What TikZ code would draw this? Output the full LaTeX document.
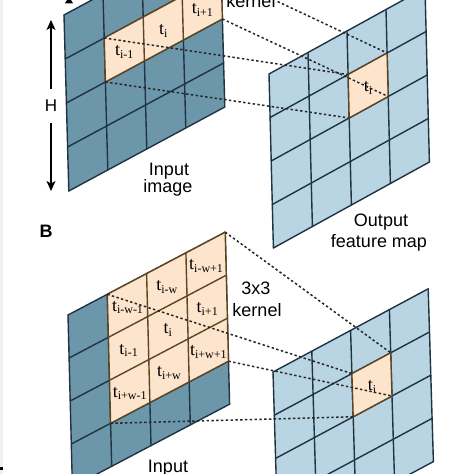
\documentclass[tikz,border=0pt]{standalone}
\usepackage{fontspec}
\setmainfont{Liberation Sans}
\newfontfamily\tfont{Liberation Serif}
\usetikzlibrary{calc,arrows.meta}
\definecolor{inblue}{HTML}{6C97AA}
\definecolor{outblue}{HTML}{B9D4E2}
\definecolor{kbeige}{HTML}{FCE4CD}
\definecolor{gline}{HTML}{1F3342}
\definecolor{kline}{HTML}{5C4622}
\tikzset{
  gridline/.style={draw=gline, line width=1.4pt, line cap=round, line join=round},
  kborder/.style={draw=kline, line width=1.4pt, line cap=round, line join=round},
  dotline/.style={draw=black!85, line width=1.5pt, dash pattern=on 2.4pt off 2.4pt},
  lbl/.style={font=\fontsize{18}{21}\selectfont, inner sep=1pt},
  tlbl/.style={font=\tfont\fontsize{18}{20}\selectfont, inner sep=0pt, yshift=-2pt},
  harrow/.style={line width=1.2pt, -{Stealth[length=10pt,width=9pt,inset=2.5pt]}},
}
\newcommand\tsub[1]{t\raisebox{-0.35ex}{\fontsize{12}{12}\selectfont #1}}
\newcommand\drawgrid[4]{%
  \fill[#2] (#1O) -- ($(#1O)+#3*(#1U)$) -- ($(#1O)+#3*(#1U)+#4*(#1V)$) -- ($(#1O)+#4*(#1V)$) -- cycle;
  \foreach \k in {0,...,#3} \draw[gridline] ($(#1O)+\k*(#1U)$) -- ($(#1O)+\k*(#1U)+#4*(#1V)$);
  \foreach \k in {0,...,#4} \draw[gridline] ($(#1O)+\k*(#1V)$) -- ($(#1O)+#3*(#1U)+\k*(#1V)$);
}
\newcommand\drawkernel[5]{%
  \fill[kbeige] ($(#1O)+#2*(#1U)+#3*(#1V)$) -- ($(#1O)+#4*(#1U)+#3*(#1V)$) -- ($(#1O)+#4*(#1U)+#5*(#1V)$) -- ($(#1O)+#2*(#1U)+#5*(#1V)$) -- cycle;
  \foreach \k in {#2,...,#4} \draw[kborder] ($(#1O)+\k*(#1U)+#3*(#1V)$) -- ($(#1O)+\k*(#1U)+#5*(#1V)$);
  \foreach \k in {#3,...,#5} \draw[kborder] ($(#1O)+#2*(#1U)+\k*(#1V)$) -- ($(#1O)+#4*(#1U)+\k*(#1V)$);
  \coordinate (#1kTL) at ($(#1O)+#2*(#1U)+#3*(#1V)$);
  \coordinate (#1kTR) at ($(#1O)+#4*(#1U)+#3*(#1V)$);
  \coordinate (#1kBR) at ($(#1O)+#4*(#1U)+#5*(#1V)$);
  \coordinate (#1kBL) at ($(#1O)+#2*(#1U)+#5*(#1V)$);
}
\begin{document}
\begin{tikzpicture}[x=1pt,y=-1pt]
\useasboundingbox (0,0) rectangle (474,474);
\clip (0,0) rectangle (474,474);
\fill[white] (0,0) rectangle (474,474);
\fill[gray!12] (0,0) rectangle (3,474);
% geometry
\coordinate (AO) at (64,15);  \coordinate (AU) at (39,-21);    \coordinate (AV) at (1.2,44);
\coordinate (CO) at (269,74); \coordinate (CU) at (39,-21.5);  \coordinate (CV) at (1.1,43.5);
\coordinate (BO) at (68,315); \coordinate (BU) at (39.3,-20.7);\coordinate (BV) at (1.1,43);
\coordinate (DO) at (273,372);\coordinate (DU) at (38.8,-20.8);\coordinate (DV) at (1.3,43.2);
% grids
\drawgrid{C}{outblue}{4}{4}
\drawgrid{A}{inblue}{4}{4}
\drawgrid{D}{outblue}{4}{4}
\drawgrid{B}{inblue}{4}{4}
% kernels and output cells
\drawkernel{A}{1}{1}{4}{2}
\drawkernel{C}{2}{1}{3}{2}
\drawkernel{B}{1}{0}{4}{3}
\drawkernel{D}{2}{1}{3}{2}
% cell labels A
\node[tlbl] (Atm) at ($(AO)+1.5*(AU)+1.5*(AV)$) {\tsub{i-1}};
\node[tlbl] (Ati) at ($(AO)+2.5*(AU)+1.5*(AV)$) {\tsub{i}};
\node[tlbl] (Atp) at ($(AO)+3.5*(AU)+1.5*(AV)$) {\tsub{i+1}};
\node[tlbl] (Cti) at ($(CO)+2.5*(CU)+1.5*(CV)$) {\tsub{i}};
% cell labels B
\node[tlbl] (B00) at ($(BO)+1.5*(BU)+0.5*(BV)$) {\tsub{i-w-1}};
\node[tlbl] (B01) at ($(BO)+2.5*(BU)+0.5*(BV)$) {\tsub{i-w}};
\node[tlbl] (B02) at ($(BO)+3.5*(BU)+0.5*(BV)$) {\tsub{i-w+1}};
\node[tlbl] (B10) at ($(BO)+1.5*(BU)+1.5*(BV)$) {\tsub{i-1}};
\node[tlbl] (B11) at ($(BO)+2.5*(BU)+1.5*(BV)$) {\tsub{i}};
\node[tlbl] (B12) at ($(BO)+3.5*(BU)+1.5*(BV)$) {\tsub{i+1}};
\node[tlbl] (B20) at ($(BO)+1.5*(BU)+2.5*(BV)$) {\tsub{i+w-1}};
\node[tlbl] (B21) at ($(BO)+2.5*(BU)+2.5*(BV)$) {\tsub{i+w}};
\node[tlbl] (B22) at ($(BO)+3.5*(BU)+2.5*(BV)$) {\tsub{i+w+1}};
\node[tlbl] (Dti) at ($(DO)+2.5*(DU)+1.5*(DV)$) {\tsub{i}};
% dotted projection lines
\draw[dotline] (AkTL) -- (CkTL);
\draw[dotline] (AkTR) -- (CkTR);
\draw[dotline] (AkBR) -- (CkBR);
\draw[dotline] (AkBL) -- (CkBL);
\draw[dotline] (BkTL) -- (DkTL);
\draw[dotline] (BkTR) -- (DkTR);
\draw[dotline] (BkBR) -- (DkBR);
\draw[dotline] (BkBL) -- (DkBL);
% text labels
\node[lbl, fill=white, anchor=base] (Akern) at (251,7) {kernel};
\node[lbl, anchor=base] (Ain1) at (169,175) {Input};
\node[lbl, anchor=base] (Ain2) at (168,192) {image};
\node[lbl, anchor=base] (Cout1) at (381,226) {Output};
\node[lbl, anchor=base] (Cout2) at (379,247) {feature map};
\node[lbl, anchor=base, font=\fontsize{18}{21}\selectfont\bfseries] (Blab) at (46,237) {B};
\node[lbl, anchor=base] (Bk1) at (256,294) {3x3};
\node[lbl, anchor=base] (Bk2) at (257,316) {kernel};
\node[lbl, anchor=base] (Bin1) at (168,472) {Input};
% H arrow
\node[lbl, font=\fontsize{17}{20}\selectfont, minimum height=34pt] (H) at (51,106) {H};
\coordinate (Htop) at (51,20);
\coordinate (Hbot) at (51,191);
\draw[harrow] (H.north) -- (Htop);
\draw[harrow] (H.south) -- (Hbot);
% cropped marks at the edges
\fill[black] (65,3.3) -- (73,3.3) -- (71,0) -- (67,0) -- cycle;
\fill[black] (0,467) rectangle (3,469.5);
\end{tikzpicture}
\end{document}
